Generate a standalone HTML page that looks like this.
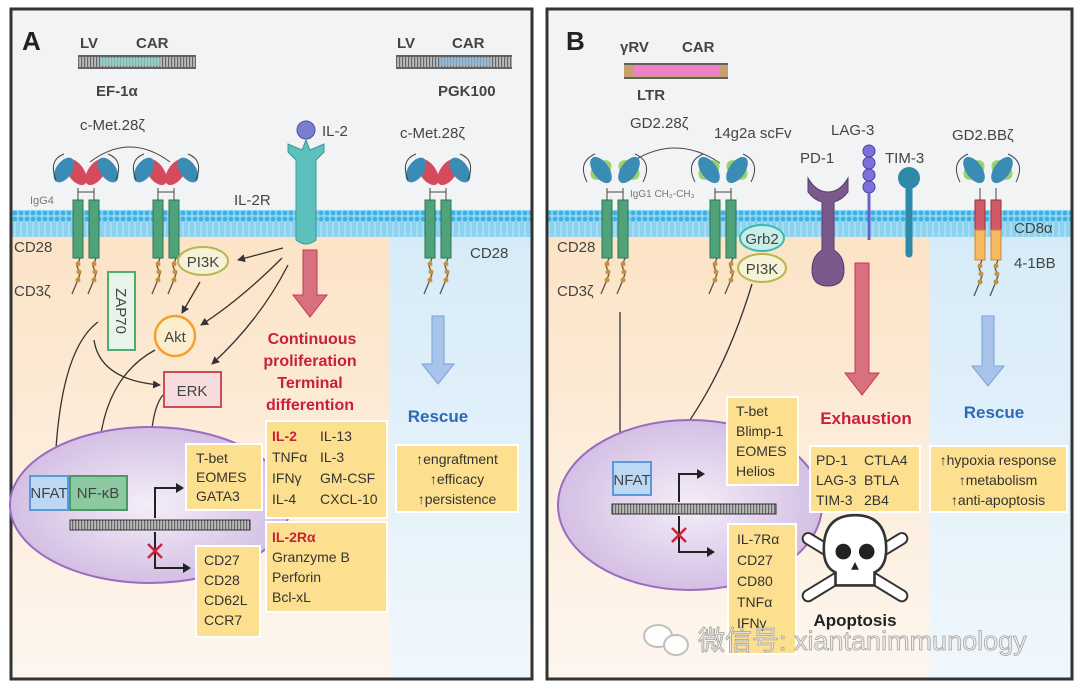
<!DOCTYPE html>
<html><head><meta charset="utf-8"><style>
body{margin:0;background:#fff;}
svg{display:block;font-family:"Liberation Sans","Noto Sans CJK SC",sans-serif;}
.t{fill:#444;font-size:15px}
.b{font-weight:bold}
.box{fill:#fde08f;stroke:#fff;stroke-width:2}
.bt{fill:#333;font-size:14px}
.ln{stroke:#333;stroke-width:1.3;fill:none;marker-end:url(#ah)}
</style></head><body>
<svg width="1080" height="689" viewBox="0 0 1080 689" xmlns="http://www.w3.org/2000/svg">
<defs>
<marker id="ah" markerWidth="8" markerHeight="8" refX="7" refY="4" orient="auto" markerUnits="userSpaceOnUse"><path d="M0,0 L8,4 L0,8 z" fill="#333"/></marker>
<linearGradient id="peach" x1="0" y1="0" x2="0" y2="1"><stop offset="0" stop-color="#fce3c6"/><stop offset="1" stop-color="#fdf6ef"/></linearGradient>
<linearGradient id="blue" x1="0" y1="0" x2="0" y2="1"><stop offset="0" stop-color="#d6ebf8"/><stop offset="1" stop-color="#f0f7fc"/></linearGradient>
<radialGradient id="nuc" cx="0.5" cy="0.5" r="0.6"><stop offset="0" stop-color="#f4eef8"/><stop offset="1" stop-color="#cdb6e0"/></radialGradient>
<pattern id="mem" width="6" height="27" patternUnits="userSpaceOnUse"><rect width="6" height="27" fill="#8dd3f0"/><circle cx="3" cy="3" r="2.3" fill="#3bb0e3"/><circle cx="3" cy="24" r="2.3" fill="#3bb0e3"/><line x1="3" y1="6" x2="3" y2="21" stroke="#bfe6f7" stroke-width="1"/></pattern>
<pattern id="dna" width="3" height="8" patternUnits="userSpaceOnUse"><rect width="3" height="8" fill="#bbb"/><rect width="1.2" height="8" fill="#666"/></pattern>
<g id="tail"><path d="M0,0 l-3,8 l3,8 l-3,8 l-5,12" stroke="#555" fill="none" stroke-width="1.3"/><circle cx="-2" cy="6" r="2.5" fill="#c8903c"/><circle cx="-1" cy="14" r="2.5" fill="#c8903c"/><circle cx="-2" cy="22" r="2.5" fill="#c8903c"/></g>
<g id="rec">
<rect x="-13" y="0" width="10" height="58" fill="#4fa27a" stroke="#2d7655"/><rect x="3" y="0" width="10" height="58" fill="#4fa27a" stroke="#2d7655"/>
<line x1="-8" y1="-12" x2="-8" y2="0" stroke="#444"/><line x1="8" y1="-12" x2="8" y2="0" stroke="#444"/><line x1="-8" y1="-8" x2="8" y2="-8" stroke="#444"/>
<use href="#tail" x="-6" y="58"/><use href="#tail" x="10" y="58"/>
</g>
<g id="headA"><ellipse cx="-10" cy="-28" rx="8" ry="15" transform="rotate(-35 -10 -28)" fill="#d64a5e"/><ellipse cx="-22" cy="-30" rx="8" ry="14" transform="rotate(35 -22 -30)" fill="#3a8cb5"/><path d="M-30,-20 q-8,-20 8,-26" stroke="#444" fill="none"/></g>
<g id="headB"><ellipse cx="-14" cy="-30" rx="12" ry="8" transform="rotate(-40 -14 -30)" fill="#9ad36a"/><ellipse cx="-14" cy="-30" rx="8" ry="15" transform="rotate(-35 -14 -30)" fill="#3a8cb5"/><path d="M-28,-18 q-10,-20 8,-28" stroke="#444" fill="none"/></g>
</defs>
<rect width="1080" height="689" fill="#fff"/>
<!-- Panel A -->
<rect x="11" y="9" width="521" height="670" fill="#f2f3f5" stroke="#333" stroke-width="3"/>
<rect x="12.5" y="236" width="378" height="441" fill="url(#peach)"/>
<rect x="390" y="236" width="140.5" height="441" fill="url(#blue)"/>
<rect x="12.5" y="210" width="518" height="27" fill="url(#mem)"/>
<!-- Panel B -->
<rect x="547" y="9" width="525" height="670" fill="#f2f3f5" stroke="#333" stroke-width="3"/>
<rect x="548.5" y="236" width="382" height="441" fill="url(#peach)"/>
<rect x="930" y="236" width="140.5" height="441" fill="url(#blue)"/>
<rect x="548.5" y="210" width="522" height="27" fill="url(#mem)"/>

<!-- A top -->
<text x="22" y="50" font-size="26" class="b" fill="#222">A</text>
<text x="80" y="48" class="t b" font-size="16">LV</text><text x="136" y="48" class="t b" font-size="16">CAR</text>
<rect x="78" y="57" width="118" height="10" fill="url(#dna)"/><rect x="100" y="58" width="60" height="8" fill="#8fd0c8" opacity="0.8"/><line x1="78" y1="56" x2="196" y2="56" stroke="#333" stroke-width="1.5"/><line x1="78" y1="68" x2="196" y2="68" stroke="#333" stroke-width="1.5"/>
<text x="96" y="96" class="t b" font-size="15">EF-1α</text>
<text x="397" y="48" class="t b" font-size="16">LV</text><text x="452" y="48" class="t b" font-size="16">CAR</text>
<rect x="396" y="57" width="116" height="10" fill="url(#dna)"/><rect x="440" y="58" width="50" height="8" fill="#8fb8d8" opacity="0.8"/><line x1="396" y1="56" x2="512" y2="56" stroke="#333" stroke-width="1.5"/><line x1="396" y1="68" x2="512" y2="68" stroke="#333" stroke-width="1.5"/>
<text x="438" y="96" class="t b" font-size="15">PGK100</text>
<text x="80" y="130" class="t">c-Met.28ζ</text>
<text x="400" y="138" class="t">c-Met.28ζ</text>
<circle cx="306" cy="130" r="9" fill="#7a7ed0" stroke="#4a4fa8"/><text x="322" y="136" class="t">IL-2</text>
<path d="M90,162 q40,-30 80,0" stroke="#444" fill="none"/>
<use href="#rec" x="86" y="200"/><use href="#headA" x="86" y="200"/><g transform="translate(86,200) scale(-1,1)"><use href="#headA"/></g>
<use href="#rec" x="166" y="200"/><use href="#headA" x="166" y="200"/><g transform="translate(166,200) scale(-1,1)"><use href="#headA"/></g>
<use href="#rec" x="438" y="200"/><use href="#headA" x="438" y="200"/><g transform="translate(438,200) scale(-1,1)"><use href="#headA"/></g>
<path d="M288,152 l0,-8 l14,6 l4,-10 l4,10 l14,-6 l0,8 l-8,8 l0,80 q-10,8 -20,0 l0,-80 z" fill="#5cc0bd" stroke="#3a9896"/>
<text x="30" y="204" font-size="11" fill="#777">IgG4</text>
<text x="14" y="252" class="t" font-size="16">CD28</text>
<text x="14" y="296" class="t" font-size="16">CD3ζ</text>
<text x="234" y="205" class="t" font-size="16">IL-2R</text>
<text x="470" y="258" class="t" font-size="16">CD28</text>
<!-- A signaling -->
<ellipse cx="203" cy="261" rx="25" ry="14" fill="#f5f2d8" stroke="#b8b650" stroke-width="2"/><text x="203" y="267" text-anchor="middle" class="t" font-size="16">PI3K</text>
<rect x="108" y="272" width="27" height="78" fill="#e8f4ea" stroke="#4fae6e" stroke-width="2"/><text transform="translate(116,311) rotate(90)" text-anchor="middle" class="t" font-size="15">ZAP70</text>
<circle cx="175" cy="336" r="20" fill="#fbeecd" stroke="#f4a02a" stroke-width="2.5"/><text x="175" y="342" text-anchor="middle" class="t" font-size="16">Akt</text>
<rect x="164" y="372" width="57" height="35" fill="#f6dcdc" stroke="#d04a5c" stroke-width="2"/><text x="192" y="396" text-anchor="middle" class="t" font-size="16">ERK</text>
<path class="ln" d="M283,248 L238,260"/><path class="ln" d="M282,258 Q240,300 201,325"/><path class="ln" d="M288,265 Q260,320 212,364"/><path class="ln" d="M200,282 L182,313"/>
<path class="ln" d="M98,322 Q60,350 55,466"/><path class="ln" d="M94,340 Q100,380 160,385"/><path class="ln" d="M155,350 Q100,380 98,466"/><path class="ln" d="M163,395 Q150,410 150,466"/>
<path d="M303,250 h14 v45 h10 l-17,22 l-17,-22 h10 z" fill="#d87080" stroke="#c03a50"/>
<g fill="#c8203c" font-size="16" class="b" text-anchor="middle"><text x="312" y="344">Continuous</text><text x="310" y="366">proliferation</text><text x="310" y="388">Terminal</text><text x="310" y="410">differention</text></g>
<path d="M432,316 h12 v48 h10 l-16,20 l-16,-20 h10 z" fill="#a9c4ea" stroke="#7a9fd4"/>
<text x="438" y="422" text-anchor="middle" fill="#2a6ab8" font-size="17" class="b">Rescue</text>
<ellipse cx="150" cy="505" rx="140" ry="78" fill="url(#nuc)" stroke="#9a6cbf" stroke-width="2"/>
<rect x="30" y="476" width="38" height="34" fill="#bcd8f2" stroke="#5b9ad8" stroke-width="2"/><text x="49" y="498" text-anchor="middle" class="t" font-size="14">NFAT</text>
<rect x="70" y="476" width="57" height="34" fill="#8cc8a0" stroke="#4a9a66" stroke-width="2"/><text x="98" y="498" text-anchor="middle" class="t" font-size="14">NF-κB</text>
<rect x="70" y="520" width="180" height="10" fill="url(#dna)" stroke="#333" stroke-width="1"/>
<path d="M155,518 V488 H176" stroke="#222" stroke-width="2" fill="none"/><path d="M176,483 l8,5 l-8,5z" fill="#222"/>
<path d="M155,532 V568 H183" stroke="#222" stroke-width="2" fill="none"/><path d="M183,563 l8,5 l-8,5z" fill="#222"/>
<path d="M148,544 l14,14 M162,544 l-14,14" stroke="#d0203a" stroke-width="2.5"/>
<rect x="186" y="444" width="76" height="66" class="box"/><g class="bt"><text x="196" y="463">T-bet</text><text x="196" y="482">EOMES</text><text x="196" y="501">GATA3</text></g>
<rect x="266" y="421" width="121" height="97" class="box"/><g class="bt"><text x="272" y="441" fill="#c8203c" class="b">IL-2</text><text x="320" y="441">IL-13</text><text x="272" y="462">TNFα</text><text x="320" y="462">IL-3</text><text x="272" y="483">IFNγ</text><text x="320" y="483">GM-CSF</text><text x="272" y="504">IL-4</text><text x="320" y="504">CXCL-10</text></g>
<rect x="266" y="522" width="121" height="90" class="box"/><g class="bt"><text x="272" y="542" fill="#c8203c" class="b">IL-2Rα</text><text x="272" y="562">Granzyme B</text><text x="272" y="582">Perforin</text><text x="272" y="602">Bcl-xL</text></g>
<rect x="196" y="546" width="64" height="91" class="box"/><g class="bt"><text x="204" y="565">CD27</text><text x="204" y="585">CD28</text><text x="204" y="605">CD62L</text><text x="204" y="625">CCR7</text></g>
<rect x="396" y="445" width="122" height="67" class="box"/><g class="bt" text-anchor="middle"><text x="457" y="464">↑engraftment</text><text x="457" y="484">↑efficacy</text><text x="457" y="504">↑persistence</text></g>

<!-- B top -->
<text x="566" y="50" font-size="26" class="b" fill="#222">B</text>
<text x="620" y="52" class="t b" font-size="16">γRV</text><text x="682" y="52" class="t b" font-size="16">CAR</text>
<rect x="624" y="65" width="104" height="12" fill="#c8a070"/><rect x="634" y="66" width="86" height="10" fill="#f080c8"/><line x1="624" y1="64" x2="728" y2="64" stroke="#333" stroke-width="1.5"/><line x1="624" y1="78" x2="728" y2="78" stroke="#333" stroke-width="1.5"/>
<text x="637" y="100" class="t b" font-size="16">LTR</text>
<text x="630" y="128" class="t">GD2.28ζ</text><text x="714" y="138" class="t" font-size="13">14g2a scFv</text>
<text x="831" y="135" class="t" font-size="16">LAG-3</text><text x="800" y="163" class="t" font-size="16">PD-1</text><text x="885" y="163" class="t" font-size="16">TIM-3</text><text x="952" y="140" class="t" font-size="16">GD2.BBζ</text>
<path d="M630,163 q45,-30 90,0" stroke="#444" fill="none"/>
<use href="#rec" x="615" y="200"/><use href="#headB" x="615" y="200"/><g transform="translate(615,200) scale(-1,1)"><use href="#headB"/></g>
<use href="#rec" x="723" y="200"/><use href="#headB" x="723" y="200"/><g transform="translate(723,200) scale(-1,1)"><use href="#headB"/></g>
<text x="630" y="197" font-size="10" fill="#777">IgG1 CH₂-CH₃</text>
<path d="M808,178 q8,14 20,14 q12,0 20,-14 l0,14 q-6,8 -14,10 l0,48 q10,6 10,20 q0,16 -16,16 q-16,0 -16,-16 q0,-14 10,-20 l0,-48 q-8,-2 -14,-10z" fill="#7a5a8c" stroke="#5a3a6c"/>
<g fill="#7a72d8" stroke="#4a42a8"><circle cx="869" cy="151" r="6"/><circle cx="869" cy="163" r="6"/><circle cx="869" cy="175" r="6"/><circle cx="869" cy="187" r="6"/></g><line x1="869" y1="193" x2="869" y2="240" stroke="#6a62c8" stroke-width="3"/>
<circle cx="909" cy="178" r="11" fill="#2e8aa8"/><line x1="909" y1="185" x2="909" y2="254" stroke="#2e8aa8" stroke-width="7" stroke-linecap="round"/>
<g transform="translate(988,200)"><rect x="-13" y="0" width="10" height="30" fill="#d05a68" stroke="#a03040"/><rect x="3" y="0" width="10" height="30" fill="#d05a68" stroke="#a03040"/><rect x="-13" y="30" width="10" height="30" fill="#f6b860" stroke="#d08830"/><rect x="3" y="30" width="10" height="30" fill="#f6b860" stroke="#d08830"/><line x1="-8" y1="-12" x2="-8" y2="0" stroke="#444"/><line x1="8" y1="-12" x2="8" y2="0" stroke="#444"/><use href="#tail" x="-6" y="60"/><use href="#tail" x="10" y="60"/></g>
<use href="#headB" x="988" y="200"/><g transform="translate(988,200) scale(-1,1)"><use href="#headB"/></g>
<text x="557" y="252" class="t" font-size="16">CD28</text><text x="557" y="296" class="t" font-size="16">CD3ζ</text>
<text x="1014" y="233" class="t" font-size="16">CD8α</text><text x="1014" y="268" class="t" font-size="16">4-1BB</text>
<ellipse cx="762" cy="238" rx="22" ry="13" fill="#c8eee8" stroke="#3ab8b0" stroke-width="2"/><text x="762" y="244" text-anchor="middle" class="t" font-size="15">Grb2</text>
<ellipse cx="762" cy="268" rx="24" ry="14" fill="#f5f2d8" stroke="#b8b650" stroke-width="2"/><text x="762" y="274" text-anchor="middle" class="t" font-size="15">PI3K</text>
<path class="ln" d="M620,312 V452"/><path class="ln" d="M752,284 Q720,390 663,455"/>
<path d="M855,263 h14 v110 h10 l-17,22 l-17,-22 h10 z" fill="#d87080" stroke="#c03a50"/>
<text x="866" y="424" text-anchor="middle" fill="#c8203c" font-size="17" class="b">Exhaustion</text>
<path d="M982,316 h12 v50 h10 l-16,20 l-16,-20 h10 z" fill="#a9c4ea" stroke="#7a9fd4"/>
<text x="994" y="418" text-anchor="middle" fill="#2a6ab8" font-size="17" class="b">Rescue</text>
<ellipse cx="690" cy="505" rx="132" ry="85" fill="url(#nuc)" stroke="#9a6cbf" stroke-width="2"/>
<rect x="613" y="462" width="38" height="33" fill="#bcd8f2" stroke="#5b9ad8" stroke-width="2"/><text x="632" y="485" text-anchor="middle" class="t" font-size="15">NFAT</text>
<rect x="612" y="504" width="164" height="10" fill="url(#dna)" stroke="#333" stroke-width="1"/>
<path d="M679,502 V474 H697" stroke="#222" stroke-width="2" fill="none"/><path d="M697,469 l8,5 l-8,5z" fill="#222"/>
<path d="M679,516 V552 H707" stroke="#222" stroke-width="2" fill="none"/><path d="M707,547 l8,5 l-8,5z" fill="#222"/>
<path d="M672,528 l14,14 M686,528 l-14,14" stroke="#d0203a" stroke-width="2.5"/>
<rect x="727" y="397" width="71" height="88" class="box"/><g class="bt"><text x="736" y="416">T-bet</text><text x="736" y="436">Blimp-1</text><text x="736" y="456">EOMES</text><text x="736" y="476">Helios</text></g>
<rect x="810" y="446" width="110" height="66" class="box"/><g class="bt"><text x="816" y="465">PD-1</text><text x="864" y="465">CTLA4</text><text x="816" y="485">LAG-3</text><text x="864" y="485">BTLA</text><text x="816" y="505">TIM-3</text><text x="864" y="505">2B4</text></g>
<rect x="930" y="446" width="137" height="66" class="box"/><g class="bt" text-anchor="middle"><text x="998" y="465">↑hypoxia response</text><text x="998" y="485">↑metabolism</text><text x="998" y="505">↑anti-apoptosis</text></g>
<rect x="728" y="524" width="68" height="130" class="box"/><g class="bt"><text x="737" y="544">IL-7Rα</text><text x="737" y="565">CD27</text><text x="737" y="586">CD80</text><text x="737" y="607">TNFα</text><text x="737" y="628">IFNγ</text></g>
<!-- skull -->
<g transform="translate(855,562) scale(1.3)">
<g stroke="#333" stroke-width="2" fill="#fff"><path d="M-36,-18 l72,44 M36,-18 l-72,44" stroke-width="10" stroke-linecap="round"/><path d="M-36,-18 l72,44 M36,-18 l-72,44" stroke="#fff" stroke-width="7" stroke-linecap="round"/>
<path d="M-24,-10 q0,-26 24,-26 q24,0 24,26 q0,14 -9,18 l0,10 l-30,0 l0,-10 q-9,-4 -9,-18z"/></g>
<circle cx="-9" cy="-8" r="6" fill="#222"/><circle cx="9" cy="-8" r="6" fill="#222"/><path d="M0,0 l-3,6 h6z" fill="#222"/>
</g>
<text x="855" y="626" text-anchor="middle" font-size="17" class="b" fill="#222">Apoptosis</text>
<!-- watermark -->
<g opacity="0.9"><ellipse cx="658" cy="636" rx="14" ry="11" fill="#fff" stroke="#bbb" stroke-width="2"/><ellipse cx="676" cy="645" rx="12" ry="10" fill="#fff" stroke="#bbb" stroke-width="2"/>
<text x="698" y="650" font-size="27" fill="#eee" stroke="#999" stroke-width="0.8">微信号: xiantanimmunology</text></g>
</svg>
</body></html>
